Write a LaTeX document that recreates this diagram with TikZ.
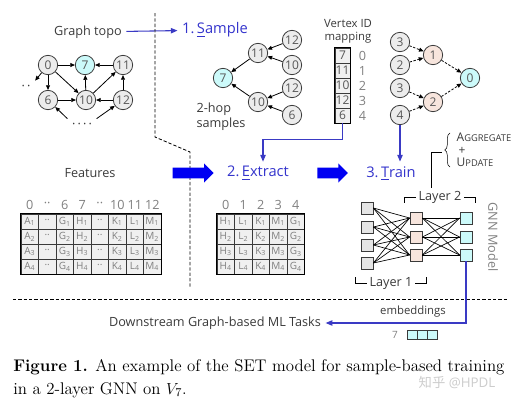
\documentclass[tikz,border=0pt]{standalone}
\usepackage{fontspec}
\setsansfont{Open Sans}
\newfontfamily\zhfont{Noto Sans CJK SC}
\usepackage{tikz}
\usetikzlibrary{positioning,calc,arrows.meta,shapes.arrows,decorations.pathreplacing}
\usepackage{xcolor}
\definecolor{setblue}{HTML}{0000F2}
\definecolor{stepblue}{HTML}{3434CC}
\definecolor{linkblue}{HTML}{3A3AC4}
\definecolor{hopcyan}{HTML}{CCFAFA}
\definecolor{hoppink}{HTML}{F7E5DD}
\definecolor{inkgray}{HTML}{3A3A3A}
\newcommand{\setgrid}[3]{%
  \foreach \c/\s [count=\i from 0] in {#3} {
    \foreach \r in {1,...,4}
      \node[gridcell] (#1\i\r) at ({#2+17.5*\i},{206.5+15*\r})
        {\ifnum\s=1 \c\textsubscript{\r}\else\c\fi};
  }
}

\begin{document}
\begin{tikzpicture}[x=0.75pt,y=-0.75pt,
  font=\sffamily\fontsize{9.5}{11}\selectfont,text=inkgray,
  vtx/.style={circle,draw=inkgray,fill=gray!15,line width=0.6pt,minimum size=14.5pt,
    inner sep=0pt,font=\sffamily\fontsize{9}{10}\selectfont,text=inkgray!85},
  edge/.style={-{Triangle[length=3.5pt,width=3pt]},line width=0.6pt,draw=black},
  hop/.style={edge,dash pattern=on 1.8pt off 1.2pt},
  link/.style={-{Triangle[length=5pt,width=4pt]},draw=linkblue,line width=0.8pt},
  stagelabel/.style={text=stepblue,font=\sffamily\fontsize{11}{13}\selectfont},
  bigarrow/.style={single arrow,fill=setblue,inner xsep=0pt,inner ysep=3.75pt,
    single arrow head extend=3.25pt,minimum height=#1},
  gridcell/.style={draw=inkgray,fill=gray!12,line width=0.4pt,minimum width=13.1pt,
    minimum height=11.25pt,inner sep=0pt,text=gray,font=\sffamily\fontsize{7.5}{8}\selectfont},
  unit/.style={draw=inkgray,line width=0.6pt,minimum size=9pt,inner sep=0pt},
  divider/.style={dash pattern=on 2.5pt off 1.5pt,line width=0.6pt}]
  \useasboundingbox (0,0) rectangle (516,404);

  \node (topo) at (88,32) {Graph topo};
  \node[vtx] (g0) at (48,65) {0};
  \node[vtx,fill=hopcyan] (g7) at (85,65) {7};
  \node[vtx] (g11) at (123,65) {11};
  \node[vtx] (g6) at (48,100) {6};
  \node[vtx] (g10) at (86,100) {10};
  \node[vtx] (g12) at (123,100) {12};
  \node (ldots) at (26,88) {·\,·};
  \node (bdots) at (82,126) {·\,·\,·\,·};
  \foreach \a/\b in {g0/g7,g11/g7,g0/g6,g0/g10,g10/g7,g10/g11,g6/g10,g12/g10,g12/g11,
                     g0/ldots.north east,bdots.north west/g6,bdots.north east/g12}
    \draw[edge] (\a) -- (\b);

  \node[stagelabel] (sample) at (215,30) {1.\,\underline{S}ample};
  \draw[link] (topo) -- (sample);
  \draw[divider] (155,13) -- (155,137) -- (190,152) -- (190,287);
  \draw[divider] (13,299) -- (508,299);

  \node[vtx,fill=hopcyan] (s7) at (223,78) {7};
  \node[vtx] (s11) at (258,53) {11};
  \node[vtx] (s10) at (258,102) {10};
  \node[vtx] (s12a) at (292,40) {12};
  \node[vtx] (s10a) at (292,65) {10};
  \node[vtx] (s12b) at (292,88) {12};
  \node[vtx] (s6) at (292,115) {6};
  \foreach \a/\b in {s12a/s11,s10a/s11,s11/s7,s10/s7,s12b/s10,s6/s10}
    \draw[edge] (\a) -- (\b);
  \node[align=left] (hop) at (221,117) {2-hop\\samples};

  \node[align=center,font=\sffamily\fontsize{8.5}{10}\selectfont] (vidmap) at (348,31) {Vertex ID\\mapping};
  \foreach \v [count=\i from 0] in {7,11,10,12,6} {
    \node[gridcell,minimum width=11.25pt,font=\sffamily\fontsize{9}{10}\selectfont,text=inkgray!85]
      (m\i) at (342.5,{55.5+15*\i}) {\v};
    \node[right=3pt of m\i,text=gray] (n\i) {\i};
  }
  \draw[line width=0.8pt] (m0.north west) rectangle (m4.south east);

  \node[vtx] (t3a) at (400,42) {3};
  \node[vtx] (t2a) at (400,65) {2};
  \node[vtx] (t3b) at (400,88) {3};
  \node[vtx] (t4) at (400,115) {4};
  \node[vtx,fill=hoppink] (t1) at (433,55) {1};
  \node[vtx,fill=hoppink] (t2) at (433,102) {2};
  \node[vtx,fill=hopcyan] (t0) at (470,78) {0};
  \foreach \a/\b in {t3a/t1,t2a/t1,t3b/t2,t4/t2,t1/t0,t2/t0}
    \draw[hop] (\a) -- (\b);

  \node (features) at (90,173) {Features};
  \node[stagelabel] (extract) at (258,173) {2.\,\underline{E}xtract};
  \node[stagelabel] (train) at (391,173) {3.\,\underline{T}rain};
  \node[bigarrow=30.75pt] (arra) at (190.5,173) {};
  \node[bigarrow=23pt] (arrb) at (330,173) {};
  \draw[link] (m4.south) -- ++(0,16) -| ($(extract.north)+(5,0)$);
  \draw[link] (t4) -- (t4 |- train.north);

  \foreach \h [count=\i from 0] in {0,··,6,7,··,10,11,12}
    \node[text=gray] (fh\i) at ({29.75+17.5*\i},205) {\h};
  \setgrid{f}{29.75}{A/1,··/0,G/1,H/1,··/0,K/1,L/1,M/1}
  \draw[line width=0.8pt] (f01.north west) rectangle (f74.south east);

  \foreach \h [count=\i from 0] in {0,1,2,3,4}
    \node[text=gray] (xh\i) at ({225.75+17.5*\i},205) {\h};
  \setgrid{x}{225.75}{H/1,L/1,K/1,M/1,G/1}
  \draw[line width=0.8pt] (x01.north west) rectangle (x44.south east);

  \foreach \y [count=\i] in {208,227,245,263}
    \node[unit,fill=gray!20] (ga\i) at (367,\y) {};
  \foreach \y [count=\i] in {218,237,255} {
    \node[unit,fill=hoppink] (gb\i) at (416,\y) {};
    \node[unit,fill=hopcyan] (gc\i) at (466,\y) {};
  }
  \foreach \i in {1,...,4}
    \foreach \j in {1,2,3}
      \draw[line width=0.5pt] (ga\i.east) -- (gb\j.west);
  \foreach \i in {1,2,3}
    \foreach \j in {1,2,3}
      \draw[line width=0.5pt] (gb\i.east) -- (gc\j.west);
  \node[rotate=-90,text=gray] (gnn) at (493,237) {GNN Model};

  \node[inner sep=2pt] (lay2) at (440,197) {Layer 2};
  \draw (lay2.west) -- ++(-11,0) -- ++(0,6);
  \draw (lay2.east) -- ++(11,0) -- ++(0,6);
  \node[inner sep=2pt] (lay1) at (391,283) {Layer 1};
  \draw (lay1.west) -- ++(-11,0) -- ++(0,-6);
  \draw (lay1.east) -- ++(11,0) -- ++(0,-6);

  \draw[decorate,decoration={brace,amplitude=4pt}] (450,167) -- (450,133);
  \coordinate (bracetip) at (442,152);
  \draw ($(lay2.north)+(-9,0)$) |- (bracetip);
  \node[anchor=west,align=left,font=\sffamily\fontsize{9}{9.4}\selectfont] (aggupd) at (452,150)
    {A{\fontsize{7}{8}\selectfont GGREGATE}\\\,+\\U{\fontsize{7}{8}\selectfont PDATE}};

  \node (downstream) at (215,323) {Downstream Graph-based ML Tasks};
  \draw[link] (gc3.south) |- (downstream.east);
  \node[font=\sffamily\fontsize{8.5}{10}\selectfont] (embl) at (413,312) {embeddings};
  \foreach \i in {0,1,2}
    \node[draw=inkgray,fill=hopcyan,line width=0.6pt,minimum width=7.5pt,minimum height=6.75pt,
      inner sep=0pt] (e\i) at ({412+10*\i},334.5) {};
  \node[left=3pt of e0,font=\sffamily\fontsize{7.5}{8}\selectfont,text=gray] (e7) {7};

  \node[anchor=west,inner sep=0pt,text=black,font=\rmfamily\fontsize{12.65}{15}\selectfont] (cap1) at (13,367)
    {\textbf{Figure 1.} An example of the SET model for sample-based training};
  \node[anchor=west,inner sep=0pt,text=black,font=\rmfamily\fontsize{12.65}{15}\selectfont] (cap2) at (13,390)
    {in a 2-layer GNN on $V_7$.};
  \node[text=gray!40,font=\sffamily\fontsize{10}{12}\selectfont] (mark) at (457,382) {{\zhfont 知乎} @HPDL};
\end{tikzpicture}
\end{document}
